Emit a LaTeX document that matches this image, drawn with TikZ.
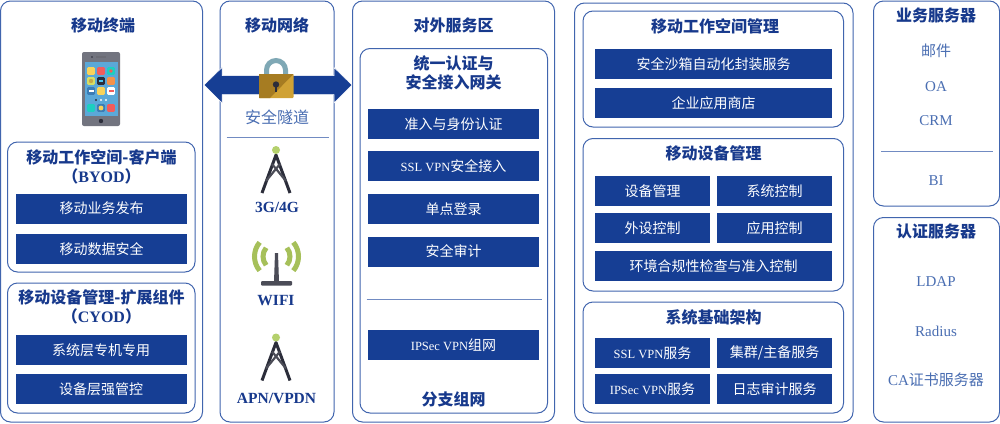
\documentclass[tikz,border=0pt]{standalone}
\usepackage{fontspec}
\setmainfont{Noto Sans CJK SC}
\newfontfamily\lat{Liberation Serif}
\usetikzlibrary{calc}
\definecolor{boxblue}{HTML}{163E94}
\definecolor{navy}{HTML}{17398C}
\definecolor{edge}{HTML}{4165AE}
\definecolor{soft}{HTML}{4A6EB2}
\definecolor{towerdark}{HTML}{2B2D3A}
\definecolor{leaf}{HTML}{B4D06C}
\definecolor{wifigreen}{HTML}{A6C05A}
\definecolor{appred}{HTML}{F25C5C}
\definecolor{appyellow}{HTML}{F9D35B}
\definecolor{appteal}{HTML}{1CCFC0}
\definecolor{applime}{HTML}{D6DE66}
\definecolor{apporange}{HTML}{F4924A}
\definecolor{appblue}{HTML}{3C7CB5}
\definecolor{phonegray}{HTML}{72747F}
\definecolor{phonescreen}{HTML}{5BA8D8}
\definecolor{lockgold}{HTML}{D0A235}
\definecolor{lockshade}{HTML}{A67C22}
\definecolor{lockring}{HTML}{7FA8B5}
\newcommand{\towerpic}[2]{%
	\draw[towerdark,line width=3pt,line join=round] ($(#1,#2)+(-14,43)$) -- ($(#1,#2)+(0,5)$) -- ($(#1,#2)+(14,43)$);
	\draw[towerdark!85,line width=2.2pt] ($(#1,#2)+(-4,14)$) -- ($(#1,#2)+(10,31)$);
	\draw[towerdark!85,line width=2.2pt] ($(#1,#2)+(4,14)$) -- ($(#1,#2)+(-10,31)$);
	\fill[leaf] (#1,#2) circle (4);
}
\newcommand{\vpn}[1]{{\fontsize{12.5}{16}\lat #1}}
\tikzset{
	panel/.style={draw=edge,line width=1pt,fill=white,rounded corners=10pt},
	bluebox/.style={fill=boxblue,text=white,font=\fontsize{14}{16}\selectfont,inner sep=0pt,minimum height=30pt},
	wide/.style={bluebox,minimum width=171pt},
	full/.style={bluebox,minimum width=237pt},
	half/.style={bluebox,minimum width=115pt},
	head/.style={text=navy,font=\fontsize{16}{19}\bfseries\selectfont,inner sep=0pt,align=center},
	sub/.style={text=navy,font=\fontsize{15.5}{18}\lat\bfseries\selectfont,inner sep=0pt},
	item/.style={text=soft,font=\fontsize{15}{18}\selectfont,inner sep=0pt},
	rule/.style={draw=edge!75,line width=0.8pt},
}
\begin{document}
\begin{tikzpicture}[x=1pt,y=-1pt]
	\useasboundingbox (0,0) rectangle (1000,423);
	% outer panels
	\draw[panel] (0.5,1) rectangle (202.5,422);
	\draw[panel] (220,1) rectangle (334,422);
	\draw[panel] (352.5,1) rectangle (554.5,422);
	\draw[panel] (574.5,3) rectangle (853,422);
	\draw[panel] (873.5,1) rectangle (999.5,206);
	\draw[panel] (873.5,217.5) rectangle (999.5,422);
	% inner panels
	\draw[panel] (7.5,142) rectangle (195,272);
	\draw[panel] (7.5,283) rectangle (195,413);
	\draw[panel] (360,48.5) rectangle (547.5,413);
	\draw[panel] (583,11) rectangle (843.5,127);
	\draw[panel] (583,138.5) rectangle (843.5,291);
	\draw[panel] (583,302) rectangle (843.5,413);
	% terminal column
	\node[head] (terminal) at (103,25) {移动终端};
	\node[head] (client) at (101.5,157) {移动工作空间-客户端};
	\node[head] (byod) at (101.5,176) {（{\lat BYOD}）};
	\node[wide] (publish) at (101.5,208.5) {移动业务发布};
	\node[wide] (datasafe) at (101.5,249) {移动数据安全};
	\node[head] (mdmext) at (101.5,297) {移动设备管理-扩展组件};
	\node[head] (cyod) at (101.5,316) {（{\lat CYOD}）};
	\node[wide] (dedicated) at (101,350) {系统层专机专用};
	\node[wide] (control) at (101,389) {设备层强管控};
	% phone
	\fill[phonegray,rounded corners=2pt] (82,52) rectangle (120,126);
	\fill[phonescreen] (84.5,62) rectangle (118,116);
	\fill[towerdark] (92,57) circle (0.8);
	\fill[towerdark!70] (96,56) rectangle (106,58);
	\fill[towerdark] (101,121) circle (2.2);
	\foreach \colx/\rowy/\appcol in {91/71/appyellow,101/71/appred,111/71/appteal,91/81/applime,101/81/towerdark,111/81/apporange,91/91/appblue,101/91/appyellow,111/91/white,91/108/appteal,101/108/appblue,111/108/appred} {
		\fill[\appcol,rounded corners=1pt] (\colx-3.8,\rowy-3.8) rectangle (\colx+3.8,\rowy+3.8);
	}
	\fill[appred] (111,71) circle (1.8);
	\fill[appyellow!80!black] (91,81) circle (2.2);
	\fill[cyan!70] (99,80) rectangle (103,82);
	\fill[white] (88.5,90) rectangle (93.5,92);
	\fill[appred] (108.5,90) rectangle (113.5,92);
	\fill[appyellow] (101,108) circle (2.4);
	\foreach \colx/\dotcol in {96/towerdark,101/white,106/white} {
		\fill[\dotcol] (\colx,100) circle (1.2);
	}
	% tunnel arrow
	\fill[boxblue,draw=white,line width=0.5pt] (204,85) -- (222,67.5) -- (222,75.5) -- (334,75.5) -- (334,67.5) -- (352,85) -- (334,103) -- (334,94.5) -- (222,94.5) -- (222,103) -- cycle;
	% network column
	\node[head] (network) at (277,25) {移动网络};
	\draw[line width=5pt,color=lockring] (266.5,76) -- (266.5,70) arc (180:360:9.5) -- (285.5,76);
	\fill[lockgold,rounded corners=1pt] (259,74) rectangle (293.5,98);
	\fill[lockshade] (259,74) -- (293.5,74) -- (270,98) -- (259,98) -- cycle;
	\fill[towerdark] (276,84.5) circle (3.2);
	\fill[towerdark] (274.8,85) rectangle (277.2,92);
	\node[item,font=\fontsize{16}{18}\selectfont] (tunnel) at (277,117) {安全隧道};
	\draw[rule] (226.5,137) -- (329,137);
	\towerpic{276}{150}
	\node[sub] (mobile) at (277,207) {3G/4G};
	% wifi sign
	\foreach \rad in {13.5,22} {
		\draw[wifigreen,line width=5pt] ($(276.5,256.5)+(40:\rad)$) arc (40:-40:\rad);
		\draw[wifigreen,line width=5pt] ($(276.5,256.5)+(140:\rad)$) arc (140:220:\rad);
	}
	\fill[towerdark!85] (275,253) -- (278,253) -- (279,282) -- (274,282) -- cycle;
	\fill[towerdark!85,rounded corners=1pt] (261,281) rectangle (292,285.5);
	\node[sub] (wifi) at (276,301) {WIFI};
	\towerpic{276}{337.5}
	\node[sub] (apn) at (276.5,398) {APN/VPDN};
	% service zone
	\node[head] (service) at (453.5,25) {对外服务区};
	\node[head] (gateway) at (453.5,72.5) {统一认证与\\安全接入网关};
	\node[wide] (auth) at (453.5,124) {准入与身份认证};
	\node[wide] (sslvpn) at (453.5,166) {\vpn{SSL VPN}安全接入};
	\node[wide] (sso) at (453.5,209) {单点登录};
	\node[wide] (audit) at (453.5,251.5) {安全审计};
	\draw[rule] (366.5,299) -- (542,299);
	\node[wide] (ipsec) at (453.5,345) {\vpn{IPSec VPN}组网};
	\node[head] (branch) at (453.5,399) {分支组网};
	% management column
	\node[head] (workspace) at (715,26) {移动工作空间管理};
	\node[full] (sandbox) at (713.5,64) {安全沙箱自动化封装服务};
	\node[full] (store) at (713.5,103) {企业应用商店};
	\node[head] (mdm) at (713.5,153) {移动设备管理};
	\node[half] (devmgmt) at (652.5,191) {设备管理};
	\node[half] (syscontrol) at (774.5,191) {系统控制};
	\node[half] (extcontrol) at (652.5,228) {外设控制};
	\node[half] (appcontrol) at (774.5,228) {应用控制};
	\node[full] (comply) at (713.5,266) {环境合规性检查与准入控制};
	\node[head] (infra) at (713.5,317) {系统基础架构};
	\node[half] (sslsrv) at (652.5,353) {\vpn{SSL VPN}服务};
	\node[half] (cluster) at (774.5,353) {集群/主备服务};
	\node[half] (ipsecsrv) at (652.5,389) {\vpn{IPSec VPN}服务};
	\node[half] (logsrv) at (774.5,389) {日志审计服务};
	% server column
	\node[head] (bizserver) at (936,15) {业务服务器};
	\node[item] (mail) at (936,51) {邮件};
	\node[item] (oa) at (936,87) {\lat OA};
	\node[item] (crm) at (936,121) {\lat CRM};
	\draw[rule] (881,151) -- (993,151);
	\node[item] (bi) at (936,181) {\lat BI};
	\node[head] (authserver) at (936,231) {认证服务器};
	\node[item] (ldap) at (936,282) {\lat LDAP};
	\node[item] (radius) at (936,331) {\lat Radius};
	\node[item] (caserver) at (936,380) {{\lat CA}证书服务器};
\end{tikzpicture}
\end{document}
